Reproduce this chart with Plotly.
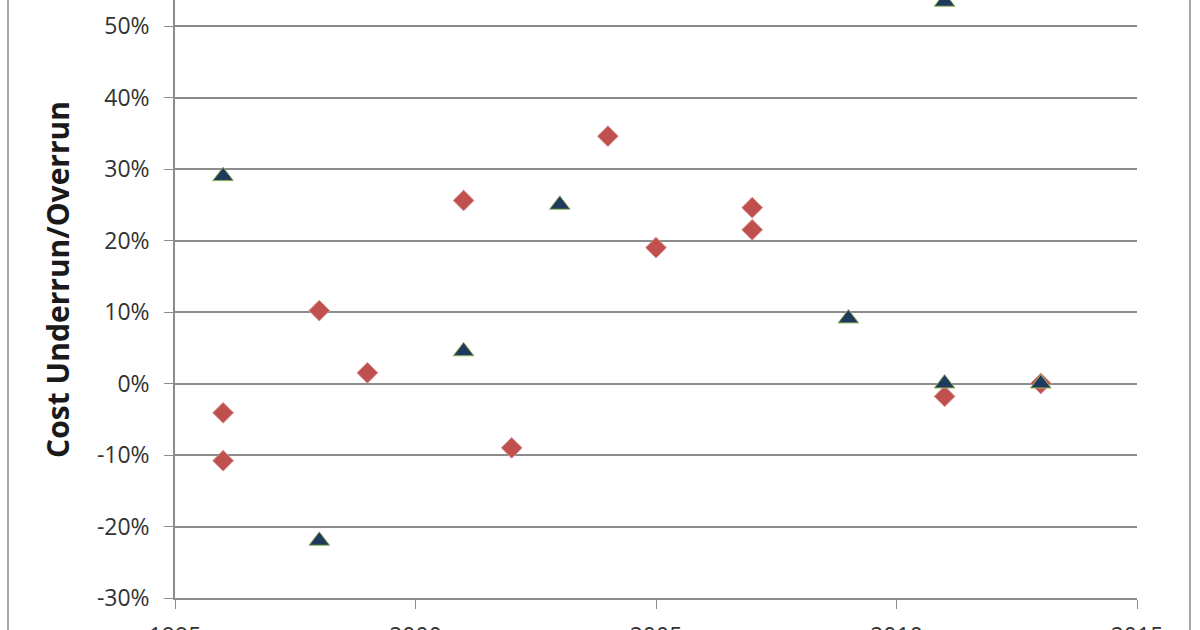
import plotly.graph_objects as go

# Cost underrun/overrun by year (values in %)
diamond_years = [1996, 1996, 1998, 1999, 2001, 2002, 2004, 2005, 2007, 2007, 2011, 2013]
diamond_vals = [-4.1, -10.8, 10.2, 1.5, 25.6, -9.0, 34.6, 19.0, 24.6, 21.5, -1.8, 0.0]

triangle_years = [1996, 1998, 2001, 2003, 2009, 2011, 2011, 2013]
triangle_vals = [29.0, -22.0, 4.5, 25.0, 9.1, 53.4, 0.0, 0.0]

y_ticks = [-30, -20, -10, 0, 10, 20, 30, 40, 50]
y_tick_labels = ["-30%", "-20%", "-10%", "0%", "10%", "20%", "30%", "40%", "50%"]
x_ticks = [1995, 2000, 2005, 2010, 2015]

FONT = "Open Sans"
GRID = "#8c8c8c"


def build_figure():
    fig = go.Figure()

    fig.add_trace(go.Scatter(
        x=diamond_years,
        y=diamond_vals,
        mode="markers",
        name="Series 1",
        marker=dict(symbol="diamond", size=16, color="#c0504d",
                    line=dict(color="#d99694", width=1)),
        cliponaxis=False,
    ))

    fig.add_trace(go.Scatter(
        x=triangle_years,
        y=triangle_vals,
        mode="markers",
        name="Series 2",
        marker=dict(symbol="triangle-up", size=18, color="#1f3a5c",
                    line=dict(color="#9bbb59", width=1)),
        cliponaxis=False,
    ))

    # outer chart border (only the sides show in the crop)
    fig.add_shape(type="rect", xref="paper", yref="paper",
                  x0=-0.1736, x1=1.0551, y0=-0.3, y1=1.3,
                  line=dict(color="#a6a6a6", width=2), layer="below")

    fig.add_annotation(
        text="<b>Cost Underrun/Overrun</b>",
        xref="paper", yref="paper",
        x=-0.1216, y=0.532,
        xanchor="center", yanchor="middle",
        textangle=-90, showarrow=False,
        font=dict(family=FONT, size=30, color="#1a1a1a"),
    )

    fig.update_layout(
        width=1200,
        height=630,
        margin=dict(l=175, r=63, t=0, b=32, autoexpand=False),
        paper_bgcolor="white",
        plot_bgcolor="white",
        showlegend=False,
        font=dict(family=FONT, size=23, color="#333333"),
    )

    fig.update_xaxes(
        range=[1995, 2015],
        tickvals=x_ticks,
        showgrid=False,
        zeroline=False,
        showline=True,
        linecolor=GRID,
        linewidth=1.5,
        ticks="outside",
        ticklen=9,
        tickcolor=GRID,
        ticklabelstandoff=8,
        automargin=False,
    )

    fig.update_yaxes(
        range=[-30, 53.64],
        tickvals=y_ticks,
        ticktext=y_tick_labels,
        showgrid=True,
        gridcolor=GRID,
        gridwidth=1.5,
        zeroline=False,
        showline=True,
        linecolor=GRID,
        linewidth=1.5,
        ticks="outside",
        ticklen=9,
        tickcolor=GRID,
        ticklabelstandoff=10,
        automargin=False,
    )

    return fig


def main():
    fig = build_figure()
    # drop the page's default body margin so the chart sits at the window edge
    fig.write_html("out.html", config={"displayModeBar": False},
                   post_script="document.body.style.margin = '0';")


if __name__ == "__main__":
    main()
